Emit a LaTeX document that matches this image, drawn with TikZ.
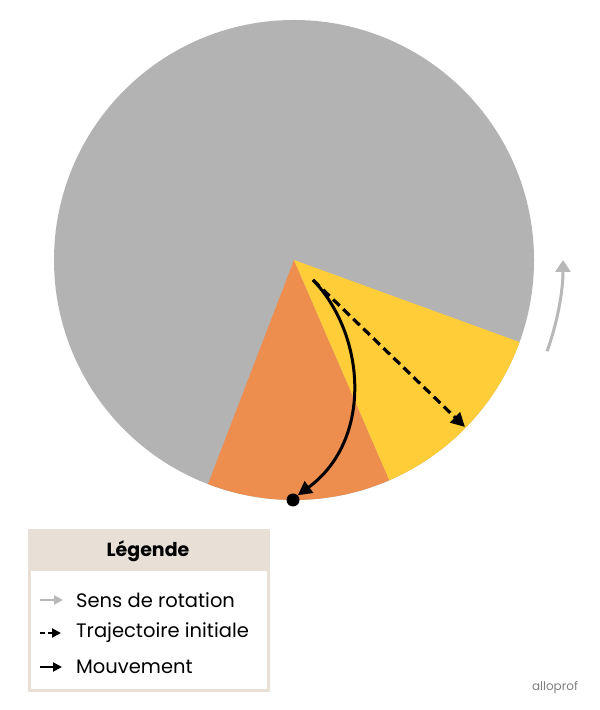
\documentclass[tikz,border=0pt]{standalone}
\usepackage{fontspec}
\setmainfont{Poppins}
\usetikzlibrary{arrows.meta,calc}
\definecolor{diskgray}{HTML}{B3B3B3}
\definecolor{sectorange}{HTML}{ED8E4F}
\definecolor{sectyellow}{HTML}{FFCD38}
\definecolor{legbeige}{HTML}{E8E0D7}
\definecolor{rotgray}{HTML}{B8B8B8}
\tikzset{
  motion/.style={line width=3pt, -{Triangle[length=14pt,width=14pt]}},
  initial/.style={line width=3.2pt, dash pattern=on 9pt off 5pt, -{Triangle[length=14pt,width=14pt]}},
  rotation/.style={line width=3pt, rotgray, -{Triangle[length=12pt,width=15pt]}},
  legtext/.style={anchor=west, inner sep=0pt, font=\fontsize{19.5}{22}\selectfont},
  legarrow/.style={line width=2pt, -{Triangle[length=9pt,width=9pt]}},
}
\begin{document}
\begin{tikzpicture}[x=1pt,y=1pt]
\useasboundingbox (0,0) rectangle (600,710);
% disk
\coordinate (O) at (294,450);
\fill[diskgray] (O) circle (240);
\fill[sectorange] (O) -- ++(-111:240) arc[start angle=-111,end angle=-66.6,radius=240] -- cycle;
\fill[sectyellow] (O) -- ++(-66.6:240) arc[start angle=-66.6,end angle=-20,radius=240] -- cycle;
% trajectories
\coordinate (start) at (313,430);
\coordinate (dashend) at (465,283);
\node[circle, fill=black, minimum size=13pt, inner sep=0pt] (ball) at (293,210) {};
\draw[initial] (start) -- (dashend);
\draw[motion] (start) .. controls (366,375) and (373,270) .. (ball.north east);
% rotation arrow
\coordinate (rotstart) at ($(O)+(-19.8:269)$);
\draw[rotation] (rotstart) arc[start angle=-19.8,end angle=0,radius=269];
% legend
\fill[white] (29.5,19) rectangle (268.5,179);
\fill[legbeige] (28,138.5) rectangle (270,180.5);
\draw[legbeige, line width=3pt] (29.5,19) rectangle (268.5,179);
\node[font=\fontsize{19}{22}\selectfont\bfseries, inner sep=0pt] (legtitle) at (148,159) {Légende};
\coordinate (l1a) at (40,110); \coordinate (l1b) at (63,110);
\draw[legarrow, rotgray] (l1a) -- (l1b);
\node[legtext] (t1) at (76,110) {Sens de rotation};
\coordinate (l2a) at (40,77); \coordinate (l2b) at (45,77);
\coordinate (l2c) at (48,77); \coordinate (l2d) at (61,77);
\draw[line width=2pt] (l2a) -- (l2b);
\draw[legarrow] (l2c) -- (l2d);
\node[legtext] (t2) at (76,77) {Trajectoire initiale};
\coordinate (l3a) at (40,43); \coordinate (l3b) at (62,43);
\draw[legarrow] (l3a) -- (l3b);
\node[legtext] (t3) at (76,43) {Mouvement};
\node[font=\fontsize{12}{13}\selectfont, text=gray, inner sep=0pt] (logo) at (555,23) {alloprof};
\end{tikzpicture}
\end{document}
